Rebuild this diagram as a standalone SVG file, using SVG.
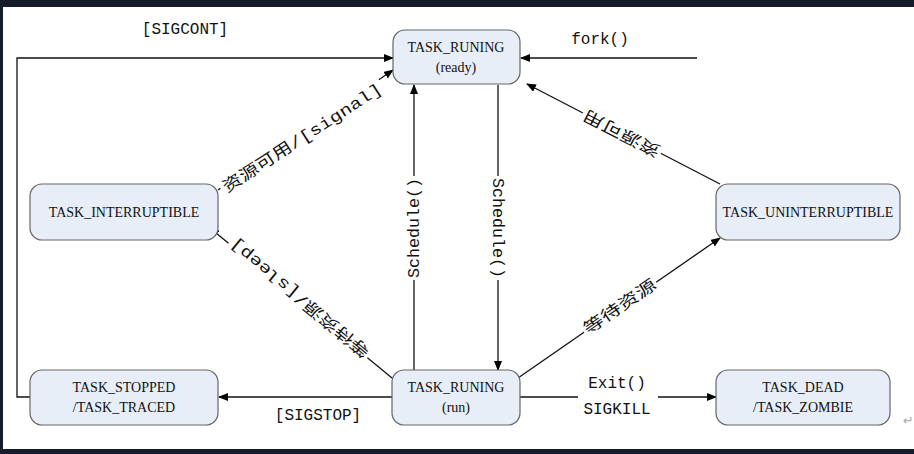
<svg xmlns="http://www.w3.org/2000/svg" width="914" height="454" viewBox="0 0 914 454">
<defs>
<marker id="ah" markerWidth="10" markerHeight="8" refX="9" refY="4" orient="auto" markerUnits="userSpaceOnUse"><path d="M0,0 L10,4 L0,8 z" fill="#000"/></marker>
<style>
.node{fill:#e8eef8;stroke:#666;stroke-width:1.2}
.nt{font-family:"Liberation Serif","Noto Sans CJK SC",serif;font-size:14px;text-anchor:middle;fill:#111}
.lbl{font-family:"Liberation Mono","Noto Sans CJK SC",monospace;font-size:16px;text-anchor:middle;fill:#111}
.c{fill:none;stroke:#111;stroke-width:1.3;marker-end:url(#ah)}
.bg{fill:#fff}
</style>
</defs>
<rect width="914" height="454" fill="#151b28"/>
<rect x="3" y="7" width="911" height="442" class="bg"/>
<g id="connectors">
<path class="c" d="M30,397 H17 V58 H393"/>
<path class="c" d="M697,58 H521"/>
<path class="c" d="M218,190 L393,70"/>
<path class="c" d="M392,378 L210,228"/>
<path class="c" d="M414,370 V85"/>
<path class="c" d="M498,85 V370"/>
<path class="c" d="M720,184 L527,84"/>
<path class="c" d="M518,378 L720,238"/>
<path class="c" d="M520,397 H716"/>
<path class="c" d="M392,397 H219"/>
</g>
<g id="labels">
<text class="lbl" x="185" y="34">[SIGCONT]</text>
<text class="lbl" x="600" y="44">fork()</text>
<g transform="translate(304,137) rotate(-33)"><rect x="-98" y="-12" width="192" height="20" class="bg"/><text class="lbl" x="-2" y="5" textLength="186" lengthAdjust="spacingAndGlyphs">资源可用/[signal]</text></g>
<g transform="translate(300,298) rotate(-140.5)"><rect x="-90" y="-12" width="180" height="20" class="bg"/><text class="lbl" y="5" textLength="176" lengthAdjust="spacingAndGlyphs">等待资源/[sleep]</text></g>
<g transform="translate(414,228) rotate(-90)"><rect x="-52" y="-11" width="104" height="20" class="bg"/><text class="lbl" y="5" textLength="100" lengthAdjust="spacingAndGlyphs">Schedule()</text></g>
<g transform="translate(498,228) rotate(90)"><rect x="-52" y="-11" width="104" height="20" class="bg"/><text class="lbl" y="5" textLength="100" lengthAdjust="spacingAndGlyphs">Schedule()</text></g>
<g transform="translate(622,133) rotate(207)"><rect x="-44" y="-12" width="88" height="20" class="bg"/><text class="lbl" y="5" textLength="84" lengthAdjust="spacingAndGlyphs">资源可用</text></g>
<g transform="translate(620,307) rotate(-34.5)"><rect x="-44" y="-12" width="88" height="20" class="bg"/><text class="lbl" y="5" textLength="84" lengthAdjust="spacingAndGlyphs">等待资源</text></g>
<rect x="578" y="370" width="80" height="50" class="bg"/>
<text class="lbl" x="617" y="388">Exit()</text>
<text class="lbl" x="617" y="414">SIGKILL</text>
<text class="lbl" x="318" y="420">[SIGSTOP]</text>
<text x="903" y="425" font-family="DejaVu Sans,sans-serif" font-size="13" fill="#aaa">↵</text>
</g>
<g id="n_ready"><rect class="node" x="393" y="30" width="127" height="54" rx="12"/><text class="nt" x="456" y="52">TASK_RUNING</text><text class="nt" x="456" y="72">(ready)</text></g>
<g id="n_int"><rect class="node" x="30" y="184" width="188" height="56" rx="12"/><text class="nt" x="124" y="217">TASK_INTERRUPTIBLE</text></g>
<g id="n_unint"><rect class="node" x="716" y="184" width="184" height="56" rx="12"/><text class="nt" x="808" y="217">TASK_UNINTERRUPTIBLE</text></g>
<g id="n_stopped"><rect class="node" x="30" y="370" width="188" height="55" rx="12"/><text class="nt" x="124" y="392">TASK_STOPPED</text><text class="nt" x="124" y="412">/TASK_TRACED</text></g>
<g id="n_run"><rect class="node" x="392" y="370" width="128" height="55" rx="12"/><text class="nt" x="456" y="392">TASK_RUNING</text><text class="nt" x="456" y="412">(run)</text></g>
<g id="n_dead"><rect class="node" x="716" y="370" width="174" height="55" rx="12"/><text class="nt" x="803" y="392">TASK_DEAD</text><text class="nt" x="803" y="412">/TASK_ZOMBIE</text></g>
</svg>
